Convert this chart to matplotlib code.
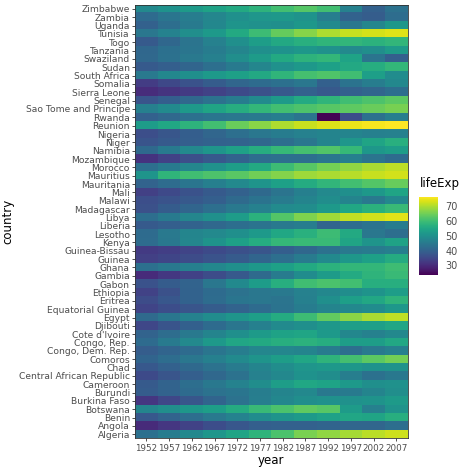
import matplotlib
matplotlib.use("Agg")
import matplotlib.pyplot as plt
import numpy as np

years = [1952, 1957, 1962, 1967, 1972, 1977, 1982, 1987, 1992, 1997, 2002, 2007]
countries = ["Algeria", "Angola", "Benin", "Botswana", "Burkina Faso", "Burundi", "Cameroon",
             "Central African Republic", "Chad", "Comoros", "Congo, Dem. Rep.", "Congo, Rep.",
             "Cote d'Ivoire", "Djibouti", "Egypt", "Equatorial Guinea", "Eritrea", "Ethiopia",
             "Gabon", "Gambia", "Ghana", "Guinea", "Guinea-Bissau", "Kenya", "Lesotho", "Liberia",
             "Libya", "Madagascar", "Malawi", "Mali", "Mauritania", "Mauritius", "Morocco",
             "Mozambique", "Namibia", "Niger", "Nigeria", "Reunion", "Rwanda",
             "Sao Tome and Principe", "Senegal", "Sierra Leone", "Somalia", "South Africa",
             "Sudan", "Swaziland", "Tanzania", "Togo", "Tunisia", "Uganda", "Zambia", "Zimbabwe"]
life_exp = [
 [43.1,45.7,48.3,51.4,54.5,58.0,61.4,65.8,67.7,69.2,71.0,72.3],
 [30.0,32.0,34.0,36.0,37.9,39.5,39.9,39.9,40.6,41.0,41.0,42.7],
 [38.2,40.4,42.6,44.9,47.0,49.2,50.9,52.3,53.9,54.8,54.4,56.7],
 [47.6,49.6,51.5,53.3,56.0,59.3,61.5,63.6,62.7,52.6,46.6,50.7],
 [32.0,34.9,37.8,40.7,43.6,46.1,48.1,49.6,50.3,50.3,50.7,52.3],
 [39.0,40.5,42.0,43.5,44.1,45.9,47.5,48.2,44.7,45.3,47.4,49.6],
 [38.5,40.4,42.6,44.8,47.0,49.4,53.0,55.0,54.3,52.2,49.9,50.4],
 [35.5,37.5,39.5,41.5,43.5,46.8,48.3,50.5,49.4,46.1,43.3,44.7],
 [38.1,39.9,41.7,43.6,45.6,47.4,49.5,51.1,51.7,51.6,50.5,50.7],
 [40.7,42.5,44.5,46.5,48.9,50.9,52.9,54.9,57.9,60.7,63.0,65.2],
 [39.1,40.7,42.1,44.1,46.0,47.8,47.8,47.4,45.5,42.6,45.0,46.5],
 [42.1,45.1,48.4,52.0,54.9,55.6,56.7,57.5,56.4,53.0,53.0,55.3],
 [40.5,42.5,44.9,47.4,49.8,52.4,54.0,54.7,52.0,48.0,46.8,48.3],
 [34.8,37.3,39.7,42.1,44.4,46.5,48.8,50.0,51.6,53.2,53.4,54.8],
 [41.9,44.4,47.0,49.3,51.1,53.3,56.0,59.8,63.7,67.2,69.8,71.3],
 [34.5,36.0,37.5,39.0,40.5,42.0,43.7,45.7,47.5,48.2,49.3,51.6],
 [35.9,38.0,40.2,42.2,44.1,44.5,43.9,46.5,50.0,53.4,55.2,58.0],
 [34.1,36.7,40.1,42.1,43.5,44.5,44.9,46.7,48.1,49.4,50.7,52.9],
 [37.0,39.0,40.5,44.6,48.7,52.8,56.6,60.2,61.4,60.5,56.8,56.7],
 [30.0,32.1,33.9,35.9,38.3,41.8,45.6,49.3,52.6,55.9,58.0,59.4],
 [43.1,44.8,46.5,48.1,49.9,51.8,53.7,55.7,57.5,58.6,58.5,60.0],
 [33.6,34.6,35.8,37.2,38.8,40.8,42.9,45.6,48.6,51.5,53.7,56.0],
 [32.5,33.5,34.5,35.5,36.5,37.5,39.3,41.2,43.3,44.9,45.5,46.4],
 [42.3,44.7,47.9,50.7,53.6,56.2,58.8,59.3,59.3,54.4,51.0,54.1],
 [42.1,45.0,47.7,48.5,49.8,52.2,55.1,57.2,59.7,55.6,44.6,42.6],
 [38.5,39.5,40.5,41.5,42.6,43.8,44.9,46.0,40.8,42.2,43.8,45.7],
 [42.7,45.3,47.8,50.2,52.8,57.4,62.2,66.2,68.8,71.6,72.7,74.0],
 [36.7,38.9,40.8,42.9,44.9,46.9,49.0,49.4,52.2,55.0,57.3,59.4],
 [36.3,37.2,38.4,39.5,41.8,43.8,45.6,47.5,49.4,47.5,45.0,48.3],
 [33.7,35.3,36.9,38.5,40.0,41.7,43.9,46.4,48.4,49.9,51.8,54.5],
 [40.5,42.3,44.2,46.3,48.4,50.9,53.6,56.1,58.3,60.4,62.2,64.2],
 [51.0,58.1,60.2,61.6,62.9,64.9,66.7,68.7,69.7,70.7,72.0,72.8],
 [42.9,45.4,47.9,50.3,52.9,55.7,59.7,62.7,65.4,67.7,69.6,71.2],
 [31.3,33.8,36.2,38.1,40.3,42.5,42.8,42.9,44.3,46.3,44.0,42.1],
 [41.7,45.2,48.4,51.2,53.9,56.4,59.0,60.8,62.0,58.9,51.5,52.9],
 [37.4,38.6,39.5,40.1,40.5,41.3,42.6,44.6,47.4,51.3,54.5,56.9],
 [36.3,37.8,39.4,41.0,42.8,44.5,45.8,46.9,47.5,47.5,46.6,46.9],
 [52.7,55.1,57.7,60.5,64.3,67.1,69.9,71.9,73.6,74.8,75.7,76.4],
 [40.0,41.5,43.0,44.1,44.6,45.0,46.2,44.0,23.6,36.1,43.4,46.2],
 [46.5,48.9,51.9,54.4,56.5,58.5,60.4,61.7,62.7,63.3,64.3,65.5],
 [37.3,39.3,41.5,43.6,45.8,48.9,52.4,55.8,58.2,60.2,61.6,63.1],
 [30.3,31.6,32.8,34.1,35.4,36.8,38.4,40.0,38.3,39.9,41.0,42.6],
 [33.0,35.0,37.0,39.0,41.0,42.0,43.0,44.5,39.7,43.8,45.9,48.2],
 [45.0,48.0,50.0,51.9,53.7,55.5,58.2,60.8,61.9,60.2,53.4,49.3],
 [38.6,39.6,40.9,42.9,45.1,47.8,50.3,51.7,53.6,55.4,56.4,58.6],
 [41.4,43.4,45.0,46.6,49.6,52.5,55.6,57.7,58.5,54.3,43.9,39.6],
 [41.2,43.0,44.2,45.8,47.6,49.9,50.6,51.5,50.4,48.5,49.7,52.5],
 [38.6,41.2,43.9,46.8,49.8,52.9,55.5,56.9,58.1,58.4,57.6,58.4],
 [44.6,47.1,49.6,52.1,55.6,59.8,64.0,66.9,70.0,72.0,73.0,73.9],
 [40.0,42.6,45.3,48.1,51.0,50.4,49.8,51.5,48.8,44.6,47.8,51.5],
 [42.0,44.1,46.0,47.8,50.1,51.4,51.8,50.8,46.1,40.2,39.2,42.4],
 [48.5,50.5,52.4,54.0,55.6,57.7,60.4,62.4,60.4,46.8,40.0,43.5],
]

Z = np.array(life_exp)
fig = plt.figure(figsize=(4.74, 4.74), dpi=100)
ax = fig.add_axes([0.285, 0.075, 0.575, 0.915])
im = ax.imshow(Z, cmap="viridis", aspect="auto", origin="lower", interpolation="nearest",
               extent=[-0.5, len(years) - 0.5, -0.5, len(countries) - 0.5])
ax.set_xticks(range(len(years)))
ax.set_xticklabels([str(y) for y in years], fontsize=6.3, color="#4d4d4d")
ax.set_yticks(range(len(countries)))
ax.set_yticklabels(countries, fontsize=6.6, color="#4d4d4d")
ax.tick_params(length=2.5, width=0.6, color="#333333", pad=1.2)
for s in ax.spines.values():
    s.set_color("#333333"); s.set_linewidth(0.6)
ax.set_xlabel("year", fontsize=8.5, labelpad=1)
ax.set_ylabel("country", fontsize=8.5, labelpad=3)

cax = fig.add_axes([0.885, 0.42, 0.038, 0.165])
cb = fig.colorbar(im, cax=cax, ticks=[30, 40, 50, 60, 70])
cb.outline.set_visible(False)
cb.ax.tick_params(labelsize=7, length=2, color="white", labelcolor="#4d4d4d")
fig.text(0.885, 0.605, "lifeExp", fontsize=8.5)
fig.savefig("out.png", dpi=100)
